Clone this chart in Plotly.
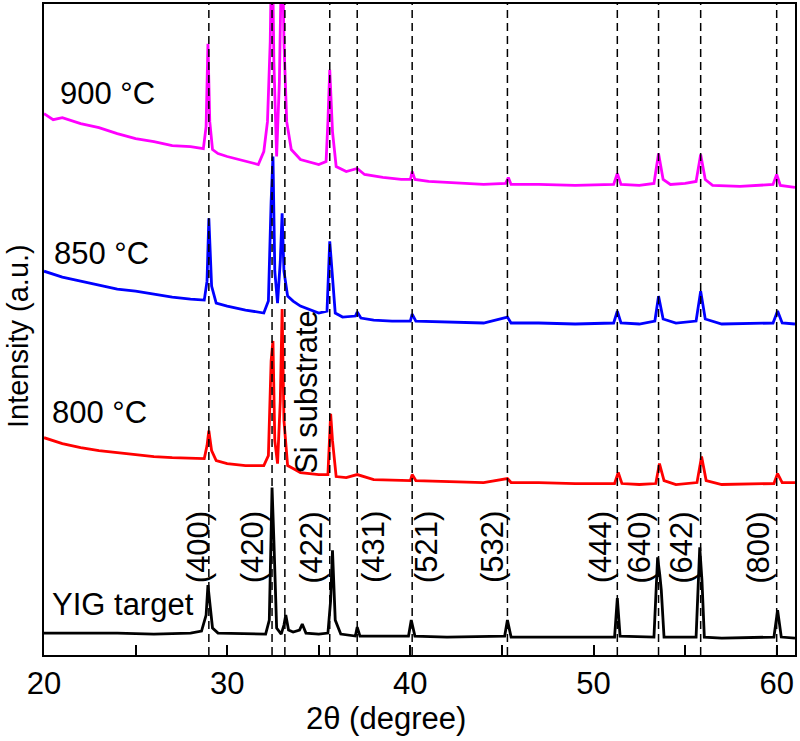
import plotly.graph_objects as go

# ---------------- data (2theta in degrees, intensity in a.u. incl. offsets) -------------
x_900 = [20.0, 20.5, 21.0, 22.0, 23.0, 24.0, 25.0, 26.0, 27.0, 28.0,
         28.7, 28.85, 28.95, 29.05, 29.2, 29.5, 30.0, 31.0, 31.7, 32.0,
         32.2, 32.35, 32.45, 32.55, 32.7, 32.85, 33.0, 33.1, 33.25, 33.5,
         34.0, 35.0, 35.4, 35.5, 35.6, 35.75, 35.95, 36.5, 37.1, 37.5,
         38.5, 39.5, 40.0, 40.1, 40.25, 41, 42, 43, 44, 45.2,
         45.35, 45.5, 47, 49, 51.1, 51.3, 51.5, 52.5, 53.3, 53.55,
         53.8, 54.2, 55.0, 55.6, 55.85, 56.1, 56.5, 58, 59.8, 60.0,
         60.2, 61]
y_900 = [543, 537, 539, 533, 529, 523, 518, 515, 511, 510,
         508, 530, 613, 535, 507, 503, 500, 495, 492, 505,
         535, 615, 735, 595, 500, 575, 735, 615, 535, 507,
         497, 492, 495, 535, 587, 525, 490, 485, 488, 482,
         479, 477, 477, 485, 477, 475, 474, 473, 472, 473,
         479, 472, 472, 471, 472, 483, 472, 471, 473, 503,
         477, 472, 473, 475, 502, 477, 471, 470, 472, 482,
         471, 469]

x_850 = [20.0, 21, 22, 23, 24, 25, 26, 27, 28, 28.75,
         28.9, 29.0, 29.15, 29.4, 30, 31, 32.0, 32.25, 32.4, 32.5,
         32.6, 32.75, 32.9, 33.0, 33.1, 33.3, 33.6, 34, 35, 35.45,
         35.6, 35.7, 35.9, 36.3, 37.0, 37.1, 37.3, 38, 39, 40.0,
         40.1, 40.3, 42, 44, 45.3, 45.5, 47, 49, 51.1, 51.3,
         51.5, 52.5, 53.35, 53.55, 53.8, 54.5, 55.6, 55.85, 56.1, 57,
         59.8, 60.05, 60.3, 61]
y_850 = [385, 379, 375, 371, 367, 365, 362, 359, 357, 356,
         375, 438, 370, 353, 350, 346, 343, 355, 455, 500,
         385, 353, 395, 443, 385, 360, 355, 350, 343, 345,
         415, 390, 343, 339, 340, 344, 338, 336, 335, 335,
         342, 335, 334, 333, 339, 333, 333, 332, 333, 345,
         333, 332, 335, 360, 337, 333, 335, 365, 337, 332,
         333, 345, 333, 332]

x_800 = [20, 21, 22, 23, 24, 25, 26, 27, 28, 28.75,
         28.9, 29.0, 29.15, 29.4, 30, 31, 32.0, 32.25, 32.4, 32.5,
         32.6, 32.75, 32.9, 33.0, 33.1, 33.3, 33.6, 34, 35, 35.5,
         35.65, 35.75, 35.95, 36.5, 37.1, 38, 40, 40.1, 40.3, 42,
         44, 45.3, 45.5, 47, 49, 51.15, 51.35, 51.55, 52.5, 53.4,
         53.6, 53.85, 54.5, 55.65, 55.9, 56.15, 57, 59.85, 60.05, 60.3,
         61]
y_800 = [218, 212, 208, 205, 203, 201, 199, 198, 197, 197,
         210, 225, 205, 195, 192, 190, 190, 200, 295, 315,
         215, 192, 255, 347, 235, 190, 187, 183, 181, 181,
         242, 215, 179, 178, 181, 176, 175, 181, 175, 174,
         173, 177, 173, 173, 172, 172, 183, 172, 171, 172,
         192, 175, 171, 173, 199, 175, 171, 172, 182, 173,
         173]

x_yig = [20, 22, 24, 26, 28, 28.6, 28.85, 28.95, 29.05, 29.2,
         29.5, 31, 32.1, 32.3, 32.45, 32.55, 32.7, 32.95, 33.1, 33.2,
         33.35, 33.6, 33.95, 34.1, 34.3, 35, 35.5, 35.65, 35.75, 35.9,
         36.2, 37.0, 37.1, 37.25, 39.9, 40.05, 40.25, 42, 45.15, 45.3,
         45.5, 48, 51.15, 51.3, 51.45, 53.3, 53.5, 53.62, 53.7, 53.85,
         55.6, 55.8, 55.92, 56.05, 57, 59.85, 60.05, 60.25, 61]
y_yig = [22, 22, 22, 21, 22, 24, 40, 70, 50, 27,
         22, 21, 21, 35, 168, 115, 27, 21, 30, 40,
         25, 23, 25, 31, 22, 21, 22, 55, 105, 35,
         21, 19, 28, 19, 19, 35, 19, 18, 19, 35,
         18, 18, 18, 57, 19, 18, 98, 80, 65, 18,
         18, 108, 75, 18, 17, 18, 45, 18, 17]

# reference lines (YIG reflections + Si substrate)
ref_lines = [29.0, 32.45, 33.15, 35.6, 37.1, 40.1, 45.3, 51.3, 53.55, 55.85, 60.0]

hkl_labels = ["(400)", "(420)", "(422)", "(431)", "(521)", "(532)",
              "(444)", "(640)", "(642)", "(800)"]
hkl_pos = [28.4, 31.35, 34.6, 38.0, 40.9, 44.5, 50.35, 52.5, 54.8, 59.0]
hkl_y = 108

series_names = ["900 °C", "850 °C", "800 °C", "YIG target"]
series_colors = ["#ff00ff", "#0000ff", "#ff0000", "#000000"]
label_x = [20.76, 20.44, 20.33, 20.33]
label_y = [563, 403, 243, 51]

FONT = "Liberation Sans, Arial, sans-serif"
FS = 31

fig = go.Figure()
for xs, ys, name, col in zip([x_900, x_850, x_800, x_yig],
                             [y_900, y_850, y_800, y_yig],
                             series_names, series_colors):
    fig.add_trace(go.Scatter(x=xs, y=ys, mode="lines", name=name,
                             line=dict(color=col, width=2.8), showlegend=False))

for xv in ref_lines:
    fig.add_shape(type="line", xref="x", yref="paper", x0=xv, x1=xv, y0=0, y1=1,
                  line=dict(color="black", width=1.5, dash="8px,5px"), layer="above")

for name, lx, ly in zip(series_names, label_x, label_y):
    fig.add_annotation(x=lx, y=ly, text=name, showarrow=False, xanchor="left",
                       yanchor="middle", font=dict(family=FONT, size=FS, color="black"))

for t, px in zip(hkl_labels, hkl_pos):
    fig.add_annotation(x=px, y=hkl_y, text=t, showarrow=False, textangle=-90,
                       xanchor="center", yanchor="middle",
                       font=dict(family=FONT, size=FS, color="black"))

fig.add_annotation(x=34.36, y=264, text="Si substrate", showarrow=False, textangle=-90,
                   xanchor="center", yanchor="middle",
                   font=dict(family=FONT, size=FS, color="black"))

fig.add_annotation(xref="paper", yref="paper", x=0.455, y=-0.097, text="2θ (degree)",
                   showarrow=False, xanchor="center", yanchor="middle",
                   font=dict(family=FONT, size=FS, color="black"))
fig.add_annotation(xref="paper", yref="paper", x=-0.0586, y=0.49, text="Intensity (a.u.)",
                   showarrow=False, textangle=-90, xanchor="left", yanchor="middle",
                   font=dict(family=FONT, size=29, color="black"))

fig.update_layout(
    width=800, height=741,
    margin=dict(l=44, r=5, t=2, b=86),
    paper_bgcolor="white", plot_bgcolor="white",
    font=dict(family=FONT, size=FS, color="black"),
    xaxis=dict(range=[20, 61], tickvals=[20, 30, 40, 50, 60], ticks="inside",
               ticklen=10, tickwidth=2, tickcolor="black",
               minor=dict(tickvals=[25, 35, 45, 55], ticks="inside", ticklen=10,
                          tickwidth=2, tickcolor="black"),
               showline=True, linecolor="black", linewidth=2, mirror=True,
               showgrid=False, zeroline=False,
               tickfont=dict(family=FONT, size=FS, color="black")),
    yaxis=dict(range=[0, 653], showticklabels=False, ticks="",
               showline=True, linecolor="black", linewidth=2, mirror=True,
               showgrid=False, zeroline=False),
)

fig.write_html("out.html")
